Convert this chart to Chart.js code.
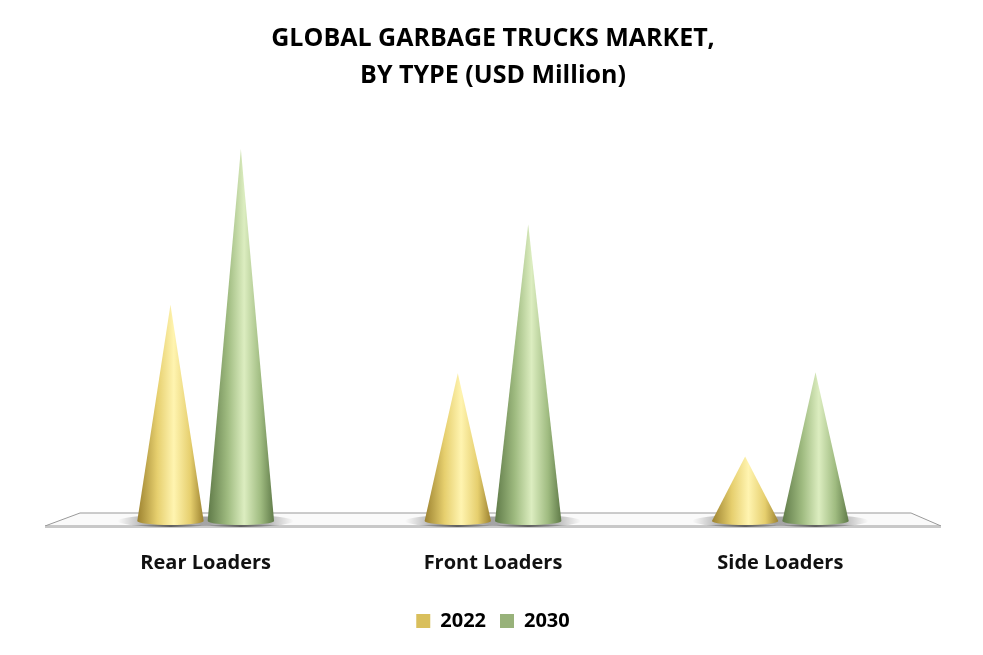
<!DOCTYPE html>
<html><head><meta charset="utf-8">
<script src="https://cdn.jsdelivr.net/npm/chart.js@4/dist/chart.umd.min.js"></script>
<style>body{margin:0;background:#fff}#w{width:983px;height:655px}</style></head>
<body><div id="w"><canvas id="c" width="983" height="655"></canvas></div>
<script>
const categories = ["Rear Loaders", "Front Loaders", "Side Loaders"];
const seriesNames = ["2022", "2030"];
const values2022 = [218, 149, 65];
const values2030 = [375, 299, 150];

const pal = [
  {dark:"#9c8230", mid:"#e6cf6e", light:"#fff4b0", legend:"#d9bf5c"},
  {dark:"#5f7a48", mid:"#9fbb80", light:"#dcedc0", legend:"#98b27a"}
];

const conePlugin = {
  id: "cones",
  beforeDatasetsDraw(chart) {
    const ctx = chart.ctx, a = chart.chartArea, y0 = chart.scales.y.getPixelForValue(0);
    const L = a.left - 17, R = a.right + 17;
    ctx.save();
    ctx.beginPath();
    ctx.moveTo(L + 35, y0 - 8);
    ctx.lineTo(R - 30, y0 - 8);
    ctx.lineTo(R, y0 + 5);
    ctx.lineTo(L, y0 + 5);
    ctx.closePath();
    ctx.fillStyle = "#fafafa"; ctx.fill();
    ctx.strokeStyle = "#999"; ctx.lineWidth = 1; ctx.stroke();
    ctx.fillStyle = "#c8c8c8";
    ctx.fillRect(L, y0 + 5, R - L, 2);
    chart.data.datasets.forEach((ds, i) => {
      chart.getDatasetMeta(i).data.forEach(el => {
        const g = ctx.createRadialGradient(el.x, y0, 2, el.x, y0, el.width * 0.75);
        g.addColorStop(0, "rgba(0,0,0,0.55)"); g.addColorStop(1, "rgba(0,0,0,0)");
        ctx.fillStyle = g;
        ctx.beginPath(); ctx.ellipse(el.x, y0, el.width * 0.75, 6, 0, 0, Math.PI * 2); ctx.fill();
      });
    });
    ctx.restore();
  },
  afterDatasetsDraw(chart) {
    const ctx = chart.ctx;
    chart.data.datasets.forEach((ds, i) => {
      const p = pal[i];
      chart.getDatasetMeta(i).data.forEach(el => {
        const hw = el.width / 2 - 2, x = el.x, top = el.y, base = el.base;
        const g = ctx.createLinearGradient(x - hw, 0, x + hw, 0);
        g.addColorStop(0, p.dark); g.addColorStop(0.3, p.mid);
        g.addColorStop(0.55, p.light); g.addColorStop(0.8, p.mid); g.addColorStop(1, p.dark);
        ctx.save();
        ctx.beginPath();
        ctx.moveTo(x, top);
        ctx.lineTo(x + hw, base);
        ctx.ellipse(x, base, hw, 4, 0, 0, Math.PI);
        ctx.closePath();
        ctx.fillStyle = g; ctx.fill();
        ctx.restore();
      });
    });
  }
};

new Chart(document.getElementById("c"), {
  type: "bar",
  data: {
    labels: categories,
    datasets: [
      {label: seriesNames[0], data: values2022, backgroundColor: "rgba(0,0,0,0)"},
      {label: seriesNames[1], data: values2030, backgroundColor: "rgba(0,0,0,0)"}
    ]
  },
  options: {
    responsive: false, animation: false,
    layout: {padding: {left: 62, right: 59, top: 10, bottom: 14}},
    categoryPercentage: 0.49, barPercentage: 1,
    plugins: {
      title: {display: true, text: ["GLOBAL GARBAGE TRUCKS MARKET,", "BY TYPE (USD Million)"],
        color: "#000", font: {family: "Open Sans", size: 25, weight: "bold", lineHeight: 1.5},
        padding: {top: 10, bottom: 40}},
      legend: {position: "bottom", labels: {
        color: "#222", font: {family: "Open Sans", size: 20, weight: "bold"},
        boxWidth: 14, boxHeight: 14, padding: 14,
        generateLabels: ch => ch.data.datasets.map((d, i) => ({text: d.label, fillStyle: pal[i].legend, strokeStyle: pal[i].legend, lineWidth: 0, datasetIndex: i}))
      }},
      tooltip: {enabled: false}
    },
    scales: {
      y: {display: false, min: 0, max: 389},
      x: {grid: {display: false}, border: {display: false},
        ticks: {color: "#111", font: {family: "Open Sans", size: 20, weight: "bold"}, padding: 22}}
    }
  },
  plugins: [conePlugin]
});
</script></body></html>
